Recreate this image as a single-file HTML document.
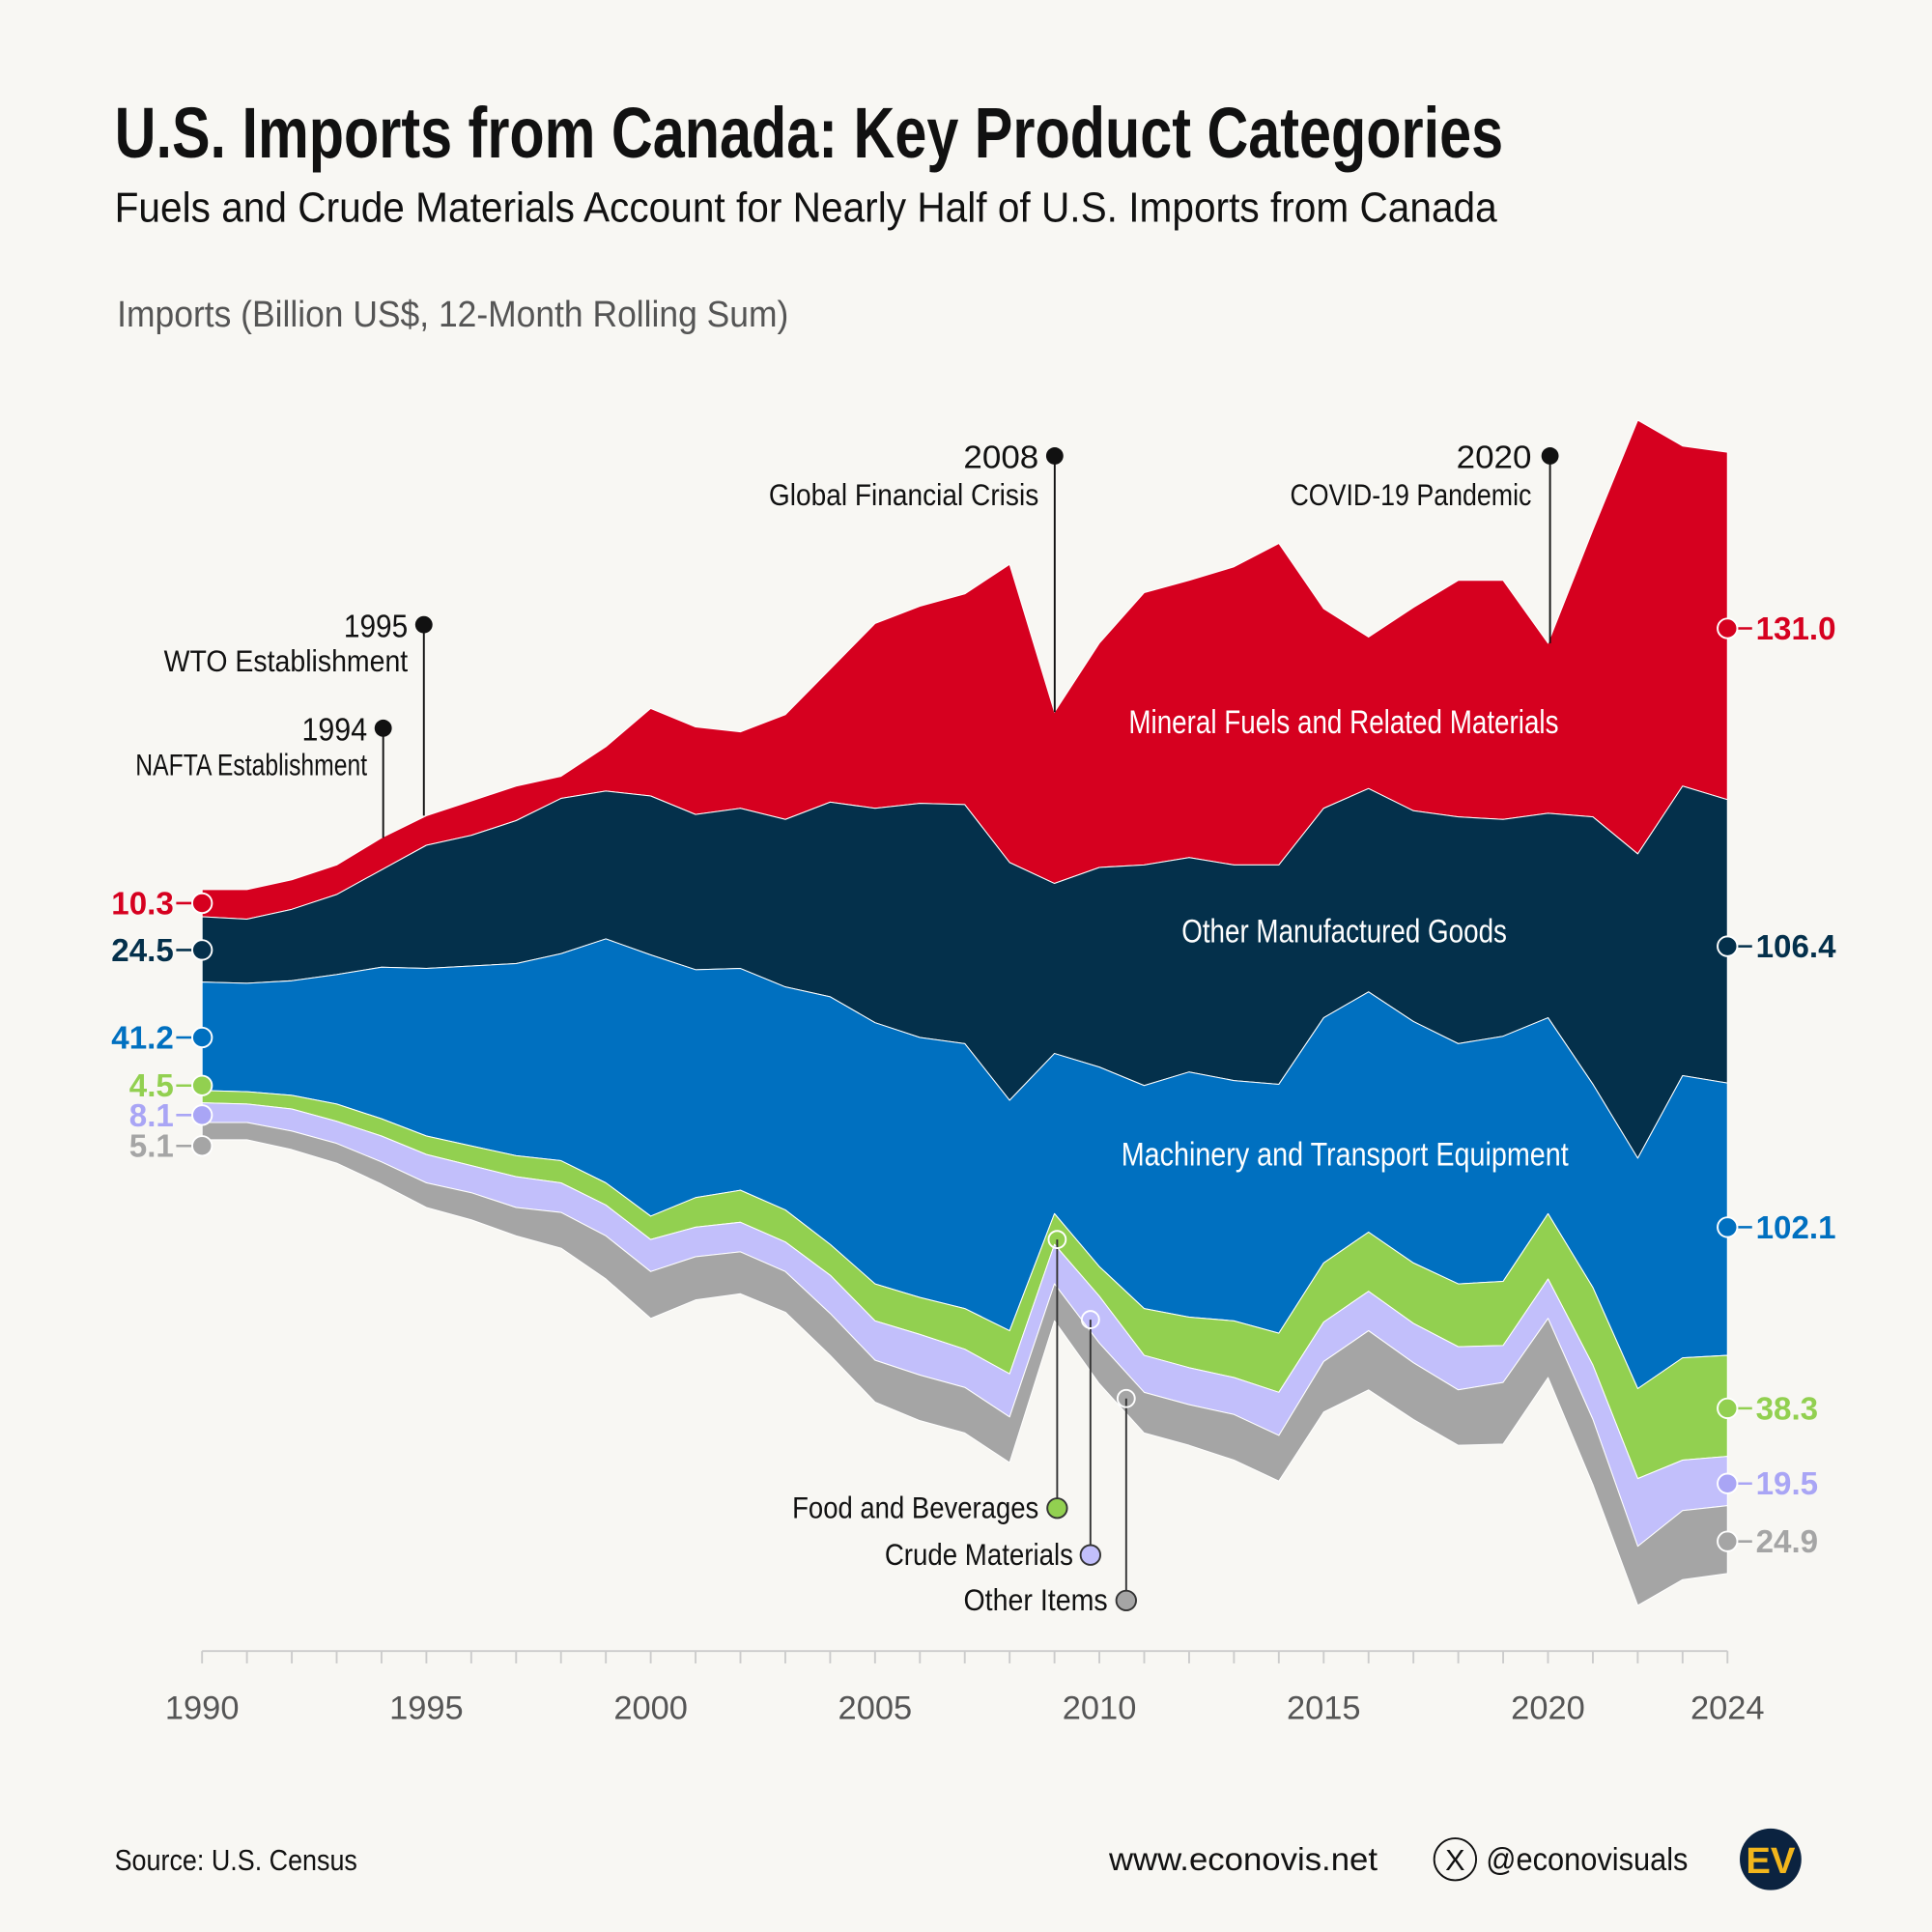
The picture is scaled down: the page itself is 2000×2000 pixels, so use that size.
<!DOCTYPE html>
<html><head><meta charset="utf-8">
<style>
html,body{margin:0;padding:0;background:#f8f7f3;}
svg{display:block;}
text{font-family:"Liberation Sans Narrow","Liberation Sans",sans-serif;}
</style></head>
<body>
<svg id="s" width="2000" height="2000" viewBox="0 0 1568 1568" xmlns="http://www.w3.org/2000/svg">
<rect width="1568" height="1568" fill="#f8f7f3"/>
<text x="93" y="128" font-size="58" font-weight="bold" fill="#111" textLength="1127" lengthAdjust="spacingAndGlyphs">U.S. Imports from Canada: Key Product Categories</text>
<text x="93" y="180" font-size="34" fill="#111" textLength="1122" lengthAdjust="spacingAndGlyphs">Fuels and Crude Materials Account for Nearly Half of U.S. Imports from Canada</text>
<text x="95" y="265" font-size="30" fill="#555" textLength="545" lengthAdjust="spacingAndGlyphs">Imports (Billion US$, 12-Month Rolling Sum)</text>
<g id="bands"></g>
<g id="axis"></g>
<g font-size="26" fill="#111">
<line x1="856" y1="370" x2="856" y2="578" stroke="#111" stroke-width="1.5"/><circle cx="856" cy="370" r="7" fill="#111"/>
<text x="782" y="380" textLength="61" lengthAdjust="spacingAndGlyphs">2008</text>
<text x="624" y="410" font-size="25" textLength="219" lengthAdjust="spacingAndGlyphs">Global Financial Crisis</text>
<line x1="1258" y1="370" x2="1258" y2="522" stroke="#111" stroke-width="1.5"/><circle cx="1258" cy="370" r="7" fill="#111"/>
<text x="1182" y="380" textLength="61" lengthAdjust="spacingAndGlyphs">2020</text>
<text x="1047" y="410" font-size="25" textLength="196" lengthAdjust="spacingAndGlyphs">COVID-19 Pandemic</text>
<line x1="344" y1="507" x2="344" y2="662" stroke="#111" stroke-width="1.5"/><circle cx="344" cy="507" r="7" fill="#111"/>
<text x="279" y="517" textLength="52" lengthAdjust="spacingAndGlyphs">1995</text>
<text x="133" y="545" font-size="25" textLength="198" lengthAdjust="spacingAndGlyphs">WTO Establishment</text>
<line x1="311" y1="591" x2="311" y2="680" stroke="#111" stroke-width="1.5"/><circle cx="311" cy="591" r="7" fill="#111"/>
<text x="245" y="601" textLength="53" lengthAdjust="spacingAndGlyphs">1994</text>
<text x="110" y="629" font-size="25" textLength="188" lengthAdjust="spacingAndGlyphs">NAFTA Establishment</text>
</g>
<g font-size="25" fill="#111" stroke-width="1.5">
<line x1="858" y1="1006" x2="858" y2="1224" stroke="#333"/><circle cx="858" cy="1006" r="7" fill="none" stroke="#fff"/><circle cx="858" cy="1224" r="8" fill="#92d050" stroke="#333"/>
<text x="643" y="1232" textLength="200" lengthAdjust="spacingAndGlyphs">Food and Beverages</text>
<line x1="885" y1="1071" x2="885" y2="1262" stroke="#333"/><circle cx="885" cy="1071" r="7" fill="none" stroke="#fff"/><circle cx="885" cy="1262" r="8" fill="#c2bffb" stroke="#333"/>
<text x="718" y="1270" textLength="153" lengthAdjust="spacingAndGlyphs">Crude Materials</text>
<line x1="914" y1="1135" x2="914" y2="1299" stroke="#333"/><circle cx="914" cy="1135" r="7" fill="none" stroke="#fff"/><circle cx="914" cy="1299" r="8" fill="#a5a5a5" stroke="#333"/>
<text x="782" y="1307" textLength="117" lengthAdjust="spacingAndGlyphs">Other Items</text>
</g>
<g font-size="27" fill="#fff">
<text x="916" y="595" textLength="349" lengthAdjust="spacingAndGlyphs">Mineral Fuels and Related Materials</text>
<text x="959" y="765" textLength="264" lengthAdjust="spacingAndGlyphs">Other Manufactured Goods</text>
<text x="910" y="946" textLength="363" lengthAdjust="spacingAndGlyphs">Machinery and  Transport Equipment</text>
</g>
<g id="labels" font-size="26" font-weight="bold"></g>
<text x="93" y="1518" font-size="24" fill="#111" textLength="197" lengthAdjust="spacingAndGlyphs">Source: U.S. Census</text>
<text x="900" y="1518" font-size="26" fill="#111" textLength="218" lengthAdjust="spacingAndGlyphs">www.econovis.net</text>
<circle cx="1181" cy="1509" r="17" fill="none" stroke="#111" stroke-width="1.5"/>
<text x="1181" y="1518" font-size="24" text-anchor="middle" fill="#111">X</text>
<text x="1206" y="1518" font-size="26" fill="#111" textLength="164" lengthAdjust="spacingAndGlyphs">@econovisuals</text>
<circle cx="1437" cy="1509" r="25" fill="#0b2340"/>
<text x="1437" y="1520" font-size="30" font-weight="bold" text-anchor="middle" fill="#f2b61c">EV</text>
</svg>
<script>
var xs=[];for(var i=0;i<35;i++)xs.push(164+i*(1402-164)/34);
var L=[
[722,722,714,702,680,662,650,638,630,606,575,590,594,580,543,506,492,482,458,578,522,481,471,460,441,494,517,493,471,471,522,430,341,362,367],
[744,746,738,726,706,686,678,666,648,642,646,661,656,665,651,656,652,653,700,717,704,702,696,702,702,656,640,658,663,665,660,663,693,638,649],
[797,798,796,791,785,786,784,782,774,762,775,787,786,801,809,830,842,847,893,855,866,881,870,877,880,826,805,829,847,841,826,880,940,873,879],
[885,886,889,896,908,922,930,938,942,960,987,972,966,982,1010,1042,1053,1062,1080,985,1028,1062,1069,1072,1082,1025,1000,1025,1042,1040,985,1045,1127,1102,1100],
[895,896,900,910,922,937,946,955,960,978,1006,996,992,1008,1035,1072,1083,1095,1115,1010,1052,1100,1110,1118,1130,1073,1048,1074,1093,1092,1038,1108,1200,1185,1182],
[911,911,918,928,943,960,968,980,984,1003,1032,1020,1016,1032,1066,1104,1116,1126,1150,1042,1090,1130,1140,1148,1165,1105,1080,1106,1128,1122,1070,1152,1255,1226,1222],
[925,925,933,944,961,980,990,1003,1013,1038,1070,1055,1050,1065,1100,1138,1153,1163,1187,1072,1123,1163,1173,1185,1202,1146,1128,1152,1173,1172,1118,1205,1303,1282,1277]];
var C=["#d6001f","#04304b","#0070c0","#92d050","#c2bffb","#a5a5a5"];
var ns="http://www.w3.org/2000/svg",g=document.getElementById("bands");
for(var b=0;b<6;b++){var d="M";for(var i=0;i<35;i++)d+=xs[i].toFixed(1)+","+L[b][i]+" L";
for(var i=34;i>=0;i--)d+=xs[i].toFixed(1)+","+L[b+1][i]+(i?" L":" Z");
var p=document.createElementNS(ns,"path");p.setAttribute("d",d);p.setAttribute("fill",C[b]);p.setAttribute("stroke","#fff");p.setAttribute("stroke-width","0.8");p.setAttribute("stroke-linejoin","round");g.appendChild(p);}
var a=document.getElementById("axis"),h='<line x1="164" y1="1340" x2="1402" y2="1340" stroke="#ccc" stroke-width="1.5"/>';
for(var i=0;i<35;i++)h+='<line x1="'+xs[i]+'" y1="1340" x2="'+xs[i]+'" y2="1350" stroke="#ccc" stroke-width="1.5"/>';
[[1990,0],[1995,5],[2000,10],[2005,15],[2010,20],[2015,25],[2020,30],[2024,34]].forEach(function(t){h+='<text x="'+xs[t[1]]+'" y="1395" font-size="27" fill="#555" text-anchor="middle">'+t[0]+'</text>';});
a.innerHTML=h;
var lab=document.getElementById("labels"),s="";
[["10.3",733,"#d6001f"],["24.5",771,"#04304b"],["41.2",842,"#0070c0"],["4.5",881,"#92d050"],["8.1",905,"#a9a5f5"],["5.1",930,"#a5a5a5"]].forEach(function(r){
s+='<line x1="143" y1="'+r[1]+'" x2="160" y2="'+r[1]+'" stroke="'+r[2]+'" stroke-width="2"/><circle cx="164" cy="'+r[1]+'" r="8" fill="'+r[2]+'" stroke="#fff" stroke-width="1.5"/><text x="141" y="'+(r[1]+9)+'" text-anchor="end" fill="'+r[2]+'">'+r[0]+'</text>';});
[["131.0",510,"#d6001f"],["106.4",768,"#04304b"],["102.1",996,"#0070c0"],["38.3",1143,"#92d050"],["19.5",1204,"#a9a5f5"],["24.9",1251,"#a5a5a5"]].forEach(function(r){
s+='<line x1="1402" y1="'+r[1]+'" x2="1422" y2="'+r[1]+'" stroke="'+r[2]+'" stroke-width="2"/><circle cx="1402" cy="'+r[1]+'" r="8" fill="'+r[2]+'" stroke="#fff" stroke-width="1.5"/><text x="1425" y="'+(r[1]+9)+'" fill="'+r[2]+'">'+r[0]+'</text>';});
lab.innerHTML=s;
</script>
</body></html>
